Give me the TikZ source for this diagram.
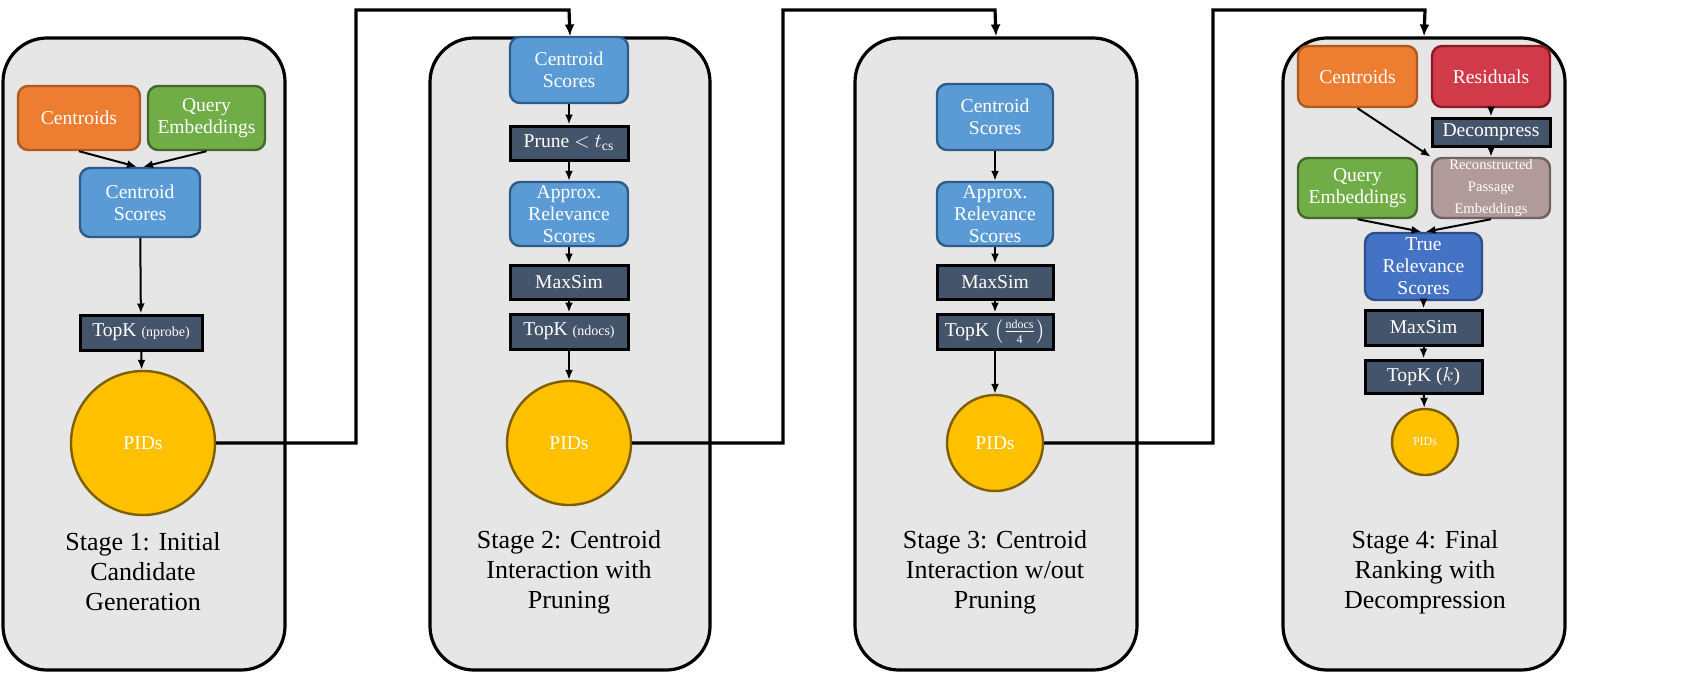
\documentclass[tikz,border=0pt]{standalone}
\usepackage{fontspec}
\setmainfont{Liberation Serif}
\usetikzlibrary{arrows.meta}
\definecolor{stg}{HTML}{E7E6E6}
\definecolor{orf}{HTML}{ED7D31}\definecolor{ord}{HTML}{AE5A21}
\definecolor{grf}{HTML}{70AD47}\definecolor{grd}{HTML}{43682B}
\definecolor{blf}{HTML}{5B9BD5}\definecolor{bld}{HTML}{2E5C8A}
\definecolor{b2f}{HTML}{4472C4}\definecolor{b2d}{HTML}{2F4E8A}
\definecolor{dkf}{HTML}{44546A}
\definecolor{gof}{HTML}{FFC000}\definecolor{god}{HTML}{7F6000}
\definecolor{rdf}{HTML}{D13A48}\definecolor{rdd}{HTML}{8B1A24}
\definecolor{pkf}{HTML}{B09A9A}\definecolor{pkd}{HTML}{6E6262}
\newcommand\bx[7]{\node[#2,minimum width={(#5-#3)*0.5pt},minimum height={(#6-#4)*0.5pt}] (#1) at ({(#3+#5)/2},{(#4+#6)/2}) {#7};}
\begin{document}
\begin{tikzpicture}[x=0.5pt,y=-0.5pt,
  base/.style={inner sep=0pt,align=center,text=white,font=\fontsize{9.8}{11}\selectfont,line width=1.2pt},
  rbox/.style={base,rounded corners=5pt},
  org/.style={rbox,fill=orf,draw=ord},
  grn/.style={rbox,fill=grf,draw=grd},
  blu/.style={rbox,fill=blf,draw=bld},
  blu2/.style={rbox,fill=b2f,draw=b2d},
  red/.style={rbox,fill=rdf,draw=rdd},
  pnk/.style={rbox,fill=pkf,draw=pkd},
  dk/.style={base,fill=dkf,draw=black,line width=1.5pt},
  pid/.style={circle,fill=gof,draw=god,line width=1.2pt,text=white,inner sep=0pt},
  stage/.style={fill=stg,draw=black,line width=1.6pt,rounded corners=22pt},
  lbl/.style={align=center,font=\fontsize{13}{15}\selectfont},
  ar/.style={-{Latex[length=5pt,width=4pt]},line width=1pt},
  link/.style={-{Latex[length=6pt,width=5pt]},line width=1.6pt}]
\useasboundingbox (0,0) rectangle (1690,676);
% stages
\bx{s1}{stage}{3}{38}{285}{670}{}
\bx{s2}{stage}{430}{38}{710}{670}{}
\bx{s3}{stage}{855}{38}{1137}{670}{}
\bx{s4}{stage}{1283}{38}{1565}{670}{}
% stage 1
\bx{a1}{org}{18}{86}{140}{150}{Centroids}
\bx{a2}{grn}{148}{86}{265}{150}{Query\\Embeddings}
\bx{a3}{blu}{80}{168}{200}{237}{Centroid\\Scores}
\bx{a4}{dk}{80}{315}{202}{350}{TopK {\fontsize{7}{8}\selectfont(nprobe)}}
\node[pid,minimum size=72pt] (p1) at (143,443) {\fontsize{9.8}{10}\selectfont PIDs};
\node[lbl] at (143,572) {Stage 1: Initial\\Candidate\\Generation};
\draw[ar] (a1.south) -- ([xshift=-1.5pt]a3.north);
\draw[ar] (a2.south) -- ([xshift=1.5pt]a3.north);
\draw[ar] (a3) -- (a4);
\draw[ar] (a4) -- (p1);
% stage 2
\bx{b1}{blu}{510}{37}{628}{103}{Centroid\\Scores}
\bx{b2}{dk}{510}{126}{628}{160}{Prune $<$ $t_{\mathrm{cs}}$}
\bx{b3}{blu}{510}{182}{628}{246}{Approx.\\Relevance\\Scores}
\bx{b4}{dk}{510}{265}{628}{299}{MaxSim}
\bx{b5}{dk}{510}{314}{628}{349}{TopK {\fontsize{7}{8}\selectfont(ndocs)}}
\node[pid,minimum size=62pt] (p2) at (569,443) {\fontsize{9.8}{10}\selectfont PIDs};
\node[lbl] at (569,572) {Stage 2: Centroid\\Interaction with\\Pruning};
\draw[ar] (b1) -- (b2);\draw[ar] (b2) -- (b3);\draw[ar] (b3) -- (b4);\draw[ar] (b4) -- (b5);\draw[ar] (b5) -- (p2);
% stage 3
\bx{c1}{blu}{937}{84}{1053}{150}{Centroid\\Scores}
\bx{c3}{blu}{937}{182}{1053}{246}{Approx.\\Relevance\\Scores}
\bx{c4}{dk}{937}{265}{1053}{299}{MaxSim}
\bx{c5}{dk}{937}{314}{1053}{349}{TopK $\left(\frac{\mbox{\fontsize{6}{7}\selectfont ndocs}}{\mbox{\fontsize{6}{7}\selectfont 4}}\right)$}
\node[pid,minimum size=48pt] (p3) at (995,443) {\fontsize{9.8}{10}\selectfont PIDs};
\node[lbl] at (995,572) {Stage 3: Centroid\\Interaction w/out\\Pruning};
\draw[ar] (c1) -- (c3);\draw[ar] (c3) -- (c4);\draw[ar] (c4) -- (c5);\draw[ar] (c5) -- (p3);
% stage 4
\bx{d1}{org}{1298}{46}{1417}{107}{Centroids}
\bx{d2}{red}{1432}{46}{1550}{107}{Residuals}
\bx{d3}{dk}{1432}{118}{1550}{146}{Decompress}
\bx{d4}{grn}{1298}{158}{1417}{218}{Query\\Embeddings}
\bx{d5}{pnk}{1432}{158}{1550}{218}{\fontsize{7.3}{8.8}\selectfont Reconstructed\\\fontsize{7.3}{8.8}\selectfont Passage\\\fontsize{7.3}{8.8}\selectfont Embeddings}
\bx{d6}{blu2}{1365}{233}{1482}{300}{True\\Relevance\\Scores}
\bx{d7}{dk}{1365}{310}{1482}{345}{MaxSim}
\bx{d8}{dk}{1365}{360}{1482}{393}{TopK ($k$)}
\node[pid,minimum size=33pt] (p4) at (1425,442) {\fontsize{6}{7}\selectfont PIDs};
\node[lbl] at (1425,572) {Stage 4: Final\\Ranking with\\Decompression};
\draw[ar] (d2) -- (d3);
\draw[ar] (d3) -- (d5);
\draw[ar] (d1.south) -- (d5.north west);
\draw[ar] (d4.south) -- ([xshift=-1pt]d6.north);
\draw[ar] (d5.south) -- ([xshift=1pt]d6.north);
\draw[ar] (d6) -- (d7);\draw[ar] (d7) -- (d8);\draw[ar] (d8) -- (p4);
% links
\draw[link] (p1.east) -- (356,443) -- (356,10) -- (569,10) -- (s2.north);
\draw[link] (p2.east) -- (783,443) -- (783,10) -- (995,10) -- (s3.north);
\draw[link] (p3.east) -- (1213,443) -- (1213,10) -- (1425,10) -- (s4.north);
\end{tikzpicture}
\end{document}
